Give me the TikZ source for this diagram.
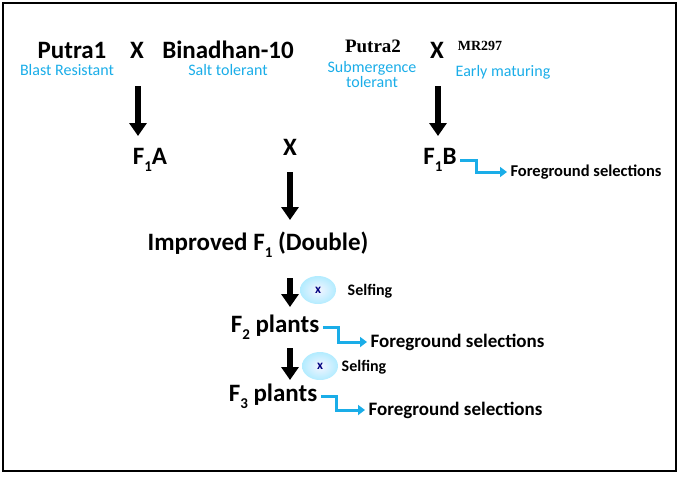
\documentclass[tikz,border=0pt]{standalone}
\usepackage{fontspec}
\setmainfont{Carlito}
\newfontfamily\serifb{Liberation Serif}
\usetikzlibrary{arrows.meta,shapes.geometric}
\definecolor{sky}{HTML}{1AADE8}
\newcommand{\lowsub}[1]{\raisebox{-0.55ex}{\fontsize{15}{15}\selectfont #1}}
\tikzset{
 lbl/.style={font=\bfseries\fontsize{25}{27}\selectfont},
 sub/.style={text=sky,font=\fontsize{16}{17}\selectfont,align=center},
 fs/.style={font=\bfseries\fontsize{19}{20}\selectfont},
 fat/.style={line width=6pt,-{Triangle[width=17pt,length=13pt]}},
 bstep/.style={draw=sky,line width=3pt,-{Triangle[width=10pt,length=7pt]}},
 oval/.style={ellipse,draw=none,inner color=blue!4,outer color=blue!25!cyan!30,minimum width=36pt,minimum height=28pt,inner sep=0pt},
 selfing/.style={font=\bfseries\fontsize{16}{17}\selectfont}
}
\begin{document}
\begin{tikzpicture}[x=1pt,y=-1pt]
\useasboundingbox (0,0) rectangle (685,477);
\draw[line width=1.5pt] (3,3) rectangle (676,471);
\node[lbl] (p1) at (72,50) {Putra1};
\node[lbl] (x1) at (137,50) {X};
\node[lbl] (b10) at (228,50) {Binadhan-10};
\node[sub] (br) at (67,70) {Blast Resistant};
\node[sub] (st) at (228,70) {Salt tolerant};
\node[font=\serifb\bfseries\fontsize{19}{21}\selectfont] (p2) at (373,46) {Putra2};
\node[sub,font=\fontsize{16}{15}\selectfont] (sm) at (372,75) {Submergence\\tolerant};
\node[lbl] (x2) at (437,50) {X};
\node[font=\serifb\bfseries\fontsize{14}{16}\selectfont] (mr) at (480,46) {MR297};
\node[sub] (em) at (503,72) {Early maturing};
\coordinate (a1s) at (138,86); \coordinate (a1e) at (138,136);
\draw[fat] (a1s) -- (a1e);
\coordinate (a2s) at (438,86); \coordinate (a2e) at (438,136);
\draw[fat] (a2s) -- (a2e);
\node[lbl] (f1a) at (150,160) {F\lowsub{1}A};
\node[lbl] (x3) at (290,147) {X};
\node[lbl] (f1b) at (440,160) {F\lowsub{1}B};
\node[fs,font=\bfseries\fontsize{16.5}{18}\selectfont,anchor=west] (fs1) at (507,172) {Foreground selections};
\draw[bstep] (f1b.east) -- ++(16,0) |- (fs1.west);
\coordinate (a3s) at (290,172); \coordinate (a3e) at (290,220);
\draw[fat] (a3s) -- (a3e);
\node[lbl] (imp) at (258,245) {Improved F\lowsub{1} (Double)};
\coordinate (a4s) at (290,278); \coordinate (a4e) at (290,307);
\draw[fat] (a4s) -- (a4e);
\node[oval] (o1) at (318,290) {\textcolor{blue!50!black}{\bfseries\fontsize{13}{13}\selectfont x}};
\node[selfing] (s1) at (370,291) {Selfing};
\node[lbl] (f2) at (275,327) {F\lowsub{2} plants};
\node[fs,anchor=west] (fs2) at (367,342) {Foreground selections};
\draw[bstep] (f2.east) -- ++(16,0) |- (fs2.west);
\coordinate (a5s) at (290,348); \coordinate (a5e) at (290,380);
\draw[fat] (a5s) -- (a5e);
\node[oval] (o2) at (320,366) {\textcolor{blue!50!black}{\bfseries\fontsize{13}{13}\selectfont x}};
\node[selfing] (s2) at (364,367) {Selfing};
\node[lbl] (f3) at (273,396) {F\lowsub{3} plants};
\node[fs,anchor=west] (fs3) at (365,410) {Foreground selections};
\draw[bstep] (f3.east) -- ++(16,0) |- (fs3.west);
\end{tikzpicture}
\end{document}
